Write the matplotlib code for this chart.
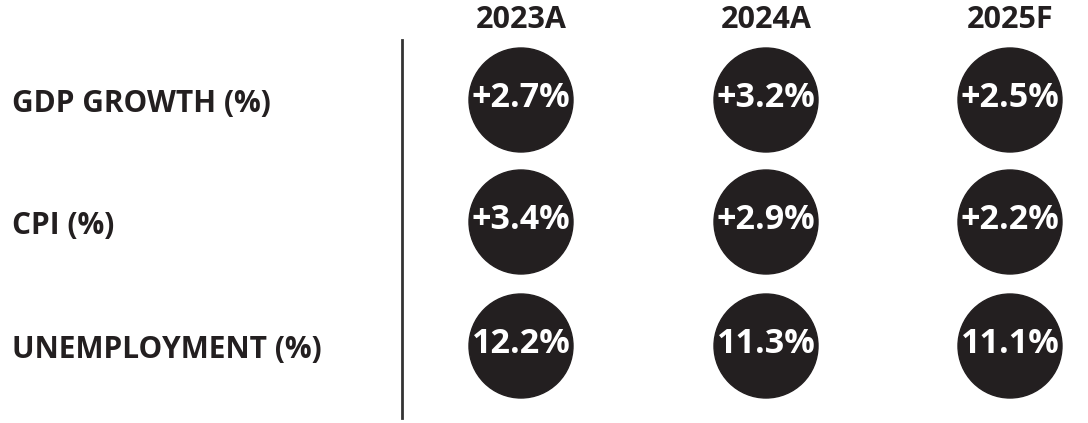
import matplotlib
matplotlib.use("Agg")
import matplotlib.pyplot as plt
from matplotlib.patches import Circle

years = ["2023A", "2024A", "2025F"]
metrics = ["GDP GROWTH (%)", "CPI (%)", "UNEMPLOYMENT (%)"]
gdp = ["+2.7%", "+3.2%", "+2.5%"]
cpi = ["+3.4%", "+2.9%", "+2.2%"]
unemp = ["12.2%", "11.3%", "11.1%"]
values = [gdp, cpi, unemp]

fig = plt.figure(figsize=(10.88, 4.23), dpi=100)
ax = fig.add_axes([0, 0, 1, 1])
ax.set_xlim(0, 1088); ax.set_ylim(423, 0); ax.set_aspect("equal"); ax.axis("off")

col_x = [521, 766, 1010]
row_y = [100, 222, 346]
dark = "#231f20"
font = "Open Sans"

for x, yr in zip(col_x, years):
    ax.text(x, 20, yr, ha="center", va="center", fontsize=22, fontweight="bold", family=font, color=dark)
for y, m, vals in zip(row_y, metrics, values):
    ax.text(12, y + 4, m, ha="left", va="center", fontsize=21.5, fontweight="bold", family=font, color=dark)
    for x, v in zip(col_x, vals):
        ax.add_patch(Circle((x, y), 52, color=dark))
        ax.text(x, y - 2, v, ha="center", va="center", fontsize=24.5, fontweight="bold", family=font, color="white")
ax.plot([402, 402], [40, 418], color="#333333", lw=2)
fig.savefig("out.png", dpi=100)
